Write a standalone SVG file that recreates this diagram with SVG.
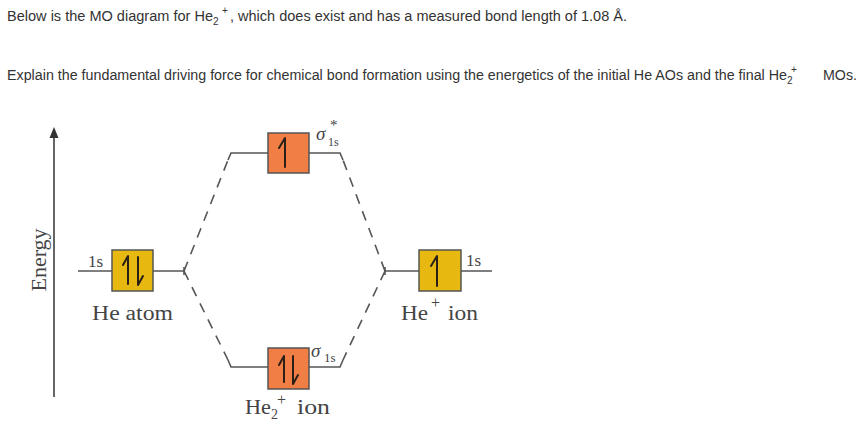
<svg xmlns="http://www.w3.org/2000/svg" width="862" height="434" viewBox="0 0 862 434">
<defs>
<style>
.hd{font-family:"Liberation Sans",Arial,sans-serif;font-size:14px;fill:#333}
.hs{font-family:"Liberation Sans",Arial,sans-serif;font-size:10px;fill:#333}
.lb{font-family:"Liberation Serif","Times New Roman",serif;font-size:20px;fill:#444}
.sm{font-family:"Liberation Serif","Times New Roman",serif;font-size:17px;fill:#444}
.sx{font-family:"Liberation Serif","Times New Roman",serif;font-size:13px;fill:#444}
.sg{font-family:"Liberation Serif","Times New Roman",serif;font-size:19px;font-style:italic;fill:#444}
.lvl{stroke:#555;stroke-width:1.6;fill:none}
.dash{stroke:#555;stroke-width:1.6;fill:none;stroke-dasharray:10,8}
.or{fill:#F07E45;stroke:#555;stroke-width:1.5}
.ye{fill:#E6B810;stroke:#555;stroke-width:1.5}
.hp{stroke:#2a2018;stroke-width:2;fill:none;stroke-linecap:round;stroke-linejoin:round}
</style>
</defs>
<rect width="862" height="434" fill="#fff"/>
<g id="header">
<text class="hd" x="7" y="21" textLength="206" lengthAdjust="spacingAndGlyphs">Below is the MO diagram for He</text>
<text class="hs" x="213" y="25">2</text>
<text class="hs" x="222" y="14">+</text>
<text class="hd" x="230" y="21" textLength="397" lengthAdjust="spacingAndGlyphs">, which does exist and has a measured bond length of 1.08 Å.</text>
<text class="hd" x="7" y="80" textLength="780" lengthAdjust="spacingAndGlyphs">Explain the fundamental driving force for chemical bond formation using the energetics of the initial He AOs and the final He</text>
<text class="hs" x="787" y="84">2</text>
<text class="hs" x="791" y="73">+</text>
<text class="hd" x="823" y="80" textLength="34" lengthAdjust="spacingAndGlyphs">MOs.</text>
</g>
<g id="energy-axis">
<line x1="54" y1="397" x2="54" y2="134" stroke="#555" stroke-width="1.8"/>
<polygon points="54,127 49.5,138 58.5,138" fill="#333"/>
<text class="lb" transform="translate(46,260) rotate(-90)" text-anchor="middle" style="font-size:22px">Energy</text>
</g>
<g id="connectors">
<path class="dash" d="M184,271 L228,160"/>
<path class="dash" d="M184,271 L228,360"/>
<path class="dash" d="M385,271 L343,160"/>
<path class="dash" d="M385,271 L343,360"/>
</g>
<g id="sigma-star">
<path class="lvl" d="M228,160 L231,153 L268,153 M309,153 L340,153 L343,160"/>
<rect class="or" x="268" y="133" width="41" height="40"/>
<path class="hp" d="M285,167 L285,138 L279,148"/>
<text class="sg" x="316" y="140">σ</text>
<text class="sx" x="330" y="130" style="font-size:15px">*</text>
<text class="sx" x="328" y="146" style="font-size:12px">1s</text>
</g>
<g id="he-atom">
<path class="lvl" d="M78,271 L112,271 M153,271 L184,271 M184,267 L184,275"/>
<rect class="ye" x="112" y="250" width="41" height="41"/>
<path class="hp" d="M128,284 L128,256 L123,265"/>
<path class="hp" d="M138,257 L138,285 L143,276"/>
<text class="sm" x="88" y="267">1s</text>
<text class="lb" x="92" y="320" textLength="81" lengthAdjust="spacingAndGlyphs">He atom</text>
</g>
<g id="he-ion">
<path class="lvl" d="M385,271 L419,271 M461,271 L492,271 M385,267 L385,275"/>
<rect class="ye" x="419" y="250" width="42" height="41"/>
<path class="hp" d="M437,286 L437,256 L431,266"/>
<text class="sm" x="466" y="266">1s</text>
<text class="lb" x="401" y="320" textLength="27" lengthAdjust="spacingAndGlyphs">He</text>
<text class="sx" x="431" y="308" style="font-size:16px">+</text>
<text class="lb" x="448" y="320" textLength="30" lengthAdjust="spacingAndGlyphs">ion</text>
</g>
<g id="sigma-bonding">
<path class="lvl" d="M228,360 L231,367 L268,367 M309,367 L340,367 L343,360"/>
<rect class="or" x="268" y="348" width="41" height="41"/>
<path class="hp" d="M284,382 L284,356 L279,365"/>
<path class="hp" d="M293,356 L293,384 L298,375"/>
<text class="sg" x="311" y="357">σ</text>
<text class="sx" x="324" y="362">1s</text>
<text class="lb" x="245" y="414" textLength="26" lengthAdjust="spacingAndGlyphs">He</text>
<text class="sx" x="271" y="419" style="font-size:14px">2</text>
<text class="sx" x="277" y="405" style="font-size:16px">+</text>
<text class="lb" x="297" y="414" textLength="33" lengthAdjust="spacingAndGlyphs">ion</text>
</g>
</svg>
